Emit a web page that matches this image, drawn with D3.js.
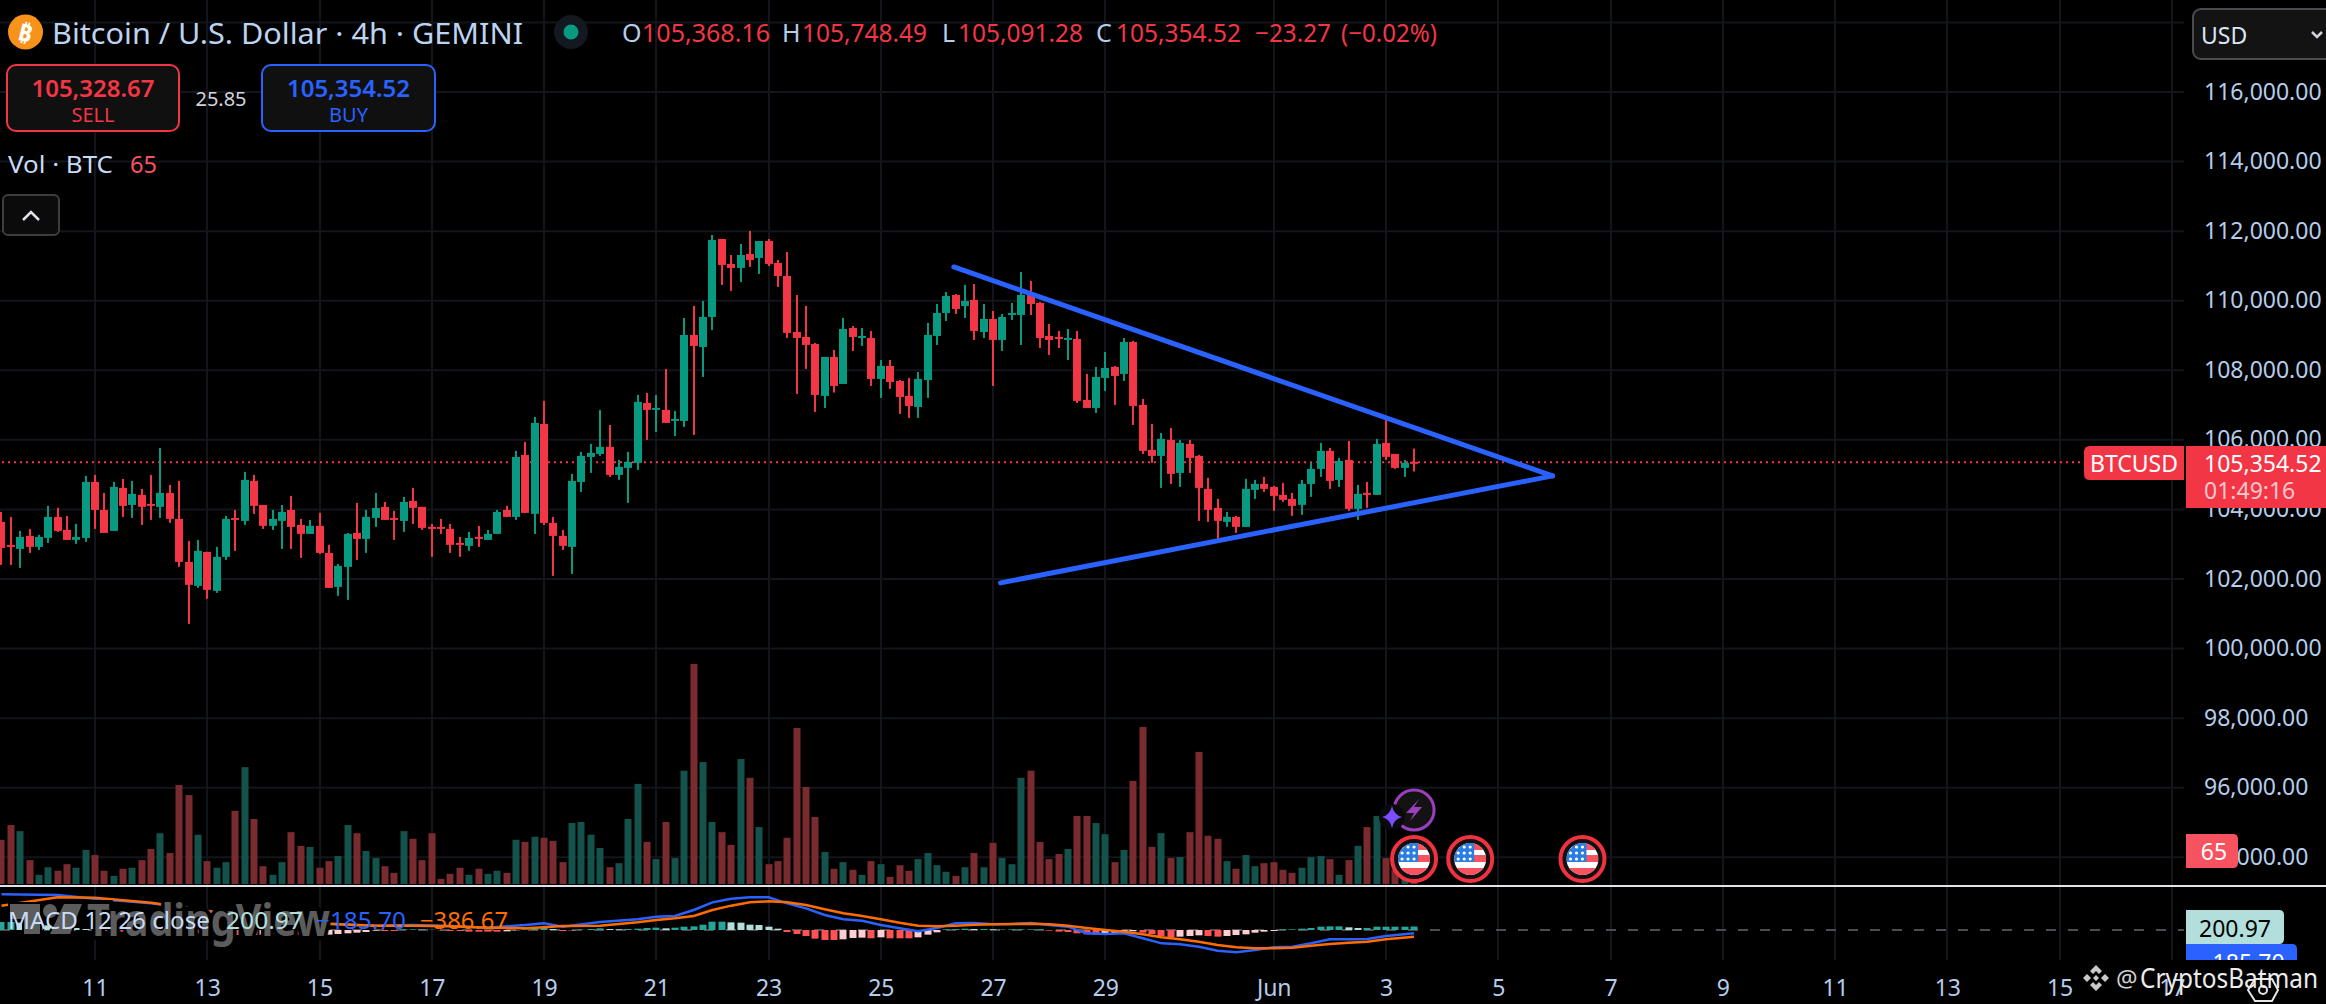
<!DOCTYPE html>
<html>
<head>
<meta charset="utf-8">
<script src="https://cdn.jsdelivr.net/npm/d3@7"></script>
<style>
html, body { margin: 0; padding: 0; background: #000; overflow: hidden; }
text { font-family: "Noto Sans", sans-serif; dominant-baseline: central; }
.domain { display: none; }
</style>
</head>
<body>
<div id="chart"></div>
<script>
var width = 2326, height = 1004
var plotRight = 2184

// 4h candles, first one is ten bars before May 11 00:00 (index 0 = May 11)
var firstIndex = -10
var opens = [
  103642,102980,102866,103239,102923,103182,103785,103412,103124,103182,
  104791,103986,103383,104619,104130,104417,104159,104073,104475,103728,
  102492,101802,102779,101658,102636,103756,103670,104820,104130,103527,
  103670,103986,103555,103297,103527,102751,101773,102348,103325,103153,
  103756,104073,103756,103670,104245,104073,103498,103498,103441,103038,
  102952,103211,103124,103297,103987,103785,105567,103872,106458,103613,
  103239,102923,104791,105510,105596,105797,104992,105194,105337,107062,
  106861,106861,106544,106544,109016,108671,109533,111775,111057,110942,
  111344,111229,111718,111085,110712,109102,108959,108757,107263,108384,
  107607,109217,108929,108929,107751,108125,107694,107263,106946,107722,
  108987,109648,110165,109849,110022,109102,109476,108872,109590,109590,
  110194,109935,108987,108958,108872,108901,107148,106918,107780,108096,
  107895,108815,107005,105711,105539,105999,105050,105884,105539,104591,
  104044,103642,103786,103498,104562,104734,104648,104418,104303,104131,
  104734,105165,105683,104849,105424,104016,104476,104418,105913,105596,
  105194,105368.16]
var highs = [
  103929,103785,103383,103440,103268,104101,104044,103814,103584,104964,
  104992,104475,104791,104877,104820,104590,104992,105768,104705,104820,
  103095,103124,102779,102923,103814,103986,105079,104992,104130,103986,
  104130,104389,103728,103699,103900,102980,102434,103325,104188,103986,
  104475,104216,103958,104360,104619,104073,103584,103728,103584,103211,
  103354,103527,103412,103987,104102,105682,105941,106659,107119,103785,
  103412,105021,105654,105883,106861,106429,105424,105654,107292,107349,
  107292,108039,106832,109505,109850,109993,111890,111775,111315,111631,
  112005,111718,111775,111172,111402,110166,109850,108786,108384,108585,
  109504,109274,109217,109131,108297,108297,107722,107780,107952,109361,
  109907,110252,110194,110453,110481,109907,109705,109619,109935,110826,
  110568,109964,109332,109131,109188,109131,107895,108096,108527,108125,
  108929,108843,107177,106459,106200,106344,105999,105999,105568,104907,
  104303,103930,103815,104878,104849,104935,104677,104763,104476,104849,
  105338,105913,105769,105481,105970,104705,104792,106028,106574,105596,
  105424,105748.49]
var lows = [
  102406,102406,102319,102751,102837,103038,103354,103124,103009,103067,
  103440,103325,103383,103785,103756,103555,103699,103756,103613,102348,
  100710,101745,101429,101601,102549,102808,103555,103871,103440,103412,
  102866,102866,102607,103297,102722,101745,101515,101400,102549,102751,
  103498,103699,103124,103354,103584,103412,102636,103297,102751,102636,
  102808,102923,103124,103297,103785,103699,103900,103297,103555,102090,
  102837,102147,104504,105050,105539,104935,104849,104188,105136,105998,
  106228,106487,106113,106372,106142,107809,109160,110453,110281,110539,
  110970,110769,110999,110396,108930,107320,108039,106803,106918,107359,
  107607,108556,108700,107550,107205,107464,106745,106630,106630,107205,
  108728,109418,109619,109504,108872,108929,107550,108556,109447,108728,
  109590,108642,108441,108642,108297,107061,106918,106774,107406,107004,
  107694,106429,105596,105338,104619,104734,104648,105050,103671,103642,
  103096,103498,103326,103498,104303,104504,103958,104217,103815,103843,
  104361,104935,104591,104648,103958,103700,104044,104418,105424,105165,
  104935,105091.28]
var closes = [
  102894,102923,103210,102923,103210,103785,103383,103124,103210,104791,
  103986,103325,104647,104101,104446,104073,104101,104475,103728,102492,
  101831,102808,101687,102636,103728,103699,104849,104101,103527,103728,
  103929,103498,103297,103527,102751,101745,102377,103297,103153,103785,
  104044,103699,103699,104216,104044,103469,103441,103441,102981,102981,
  103182,103153,103297,103929,103785,105510,103900,106487,103613,103239,
  102952,104820,105539,105625,105797,104992,105222,105366,107091,106861,
  106918,106487,106602,109016,108700,109533,111746,111028,110942,111315,
  111172,111718,111057,110712,109074,108930,108729,107292,108384,107550,
  109188,108958,108987,107751,108125,107665,107234,106975,107751,109016,
  109648,110137,109763,109993,109131,109476,108872,109533,109648,110165,
  109907,108929,108872,108901,108929,107119,106918,107809,108067,107837,
  108815,106975,105683,105539,106028,105022,105913,105481,104619,103987,
  103671,103786,103498,104591,104734,104591,104389,104274,104102,104734,
  105165,105683,104820,105395,104016,104447,104418,105884,105510,105194,
  105338,105354.52]
var volumes = [
  87,116,104,47,18,33,26,39,32,67,
  57,26,16,30,32,47,69,100,61,195,
  175,97,45,32,43,144,230,128,35,18,
  43,102,75,73,32,45,55,116,100,65,
  51,35,22,104,89,47,100,10,20,32,
  18,30,20,26,22,87,83,93,91,85,
  43,120,122,97,71,33,41,128,197,83,
  49,122,51,223,433,240,122,102,77,246,
  209,112,39,45,91,307,191,132,63,30,
  43,28,18,45,39,14,37,26,49,61,
  37,24,16,33,61,33,81,51,39,209,
  223,83,49,59,69,134,134,120,98,43,
  67,203,309,73,100,51,53,102,260,95,
  89,45,30,57,35,41,43,28,22,32,
  53,55,49,18,47,75,112,134,51,28,
  21,65]
var histogram = [
  456,456,418,380,342,266,190,152,114,57,
  -19,-57,-76,-95,-95,-76,-57,-76,-95,-133,
  -171,-190,-228,-247,-266,-285,-285,-285,-266,-228,
  -209,-209,-266,-323,-304,-266,-228,-190,-152,-114,
  -38,-57,-57,38,38,19,19,-19,-57,-57,
  -95,-95,-95,-95,-76,-19,38,76,114,57,
  -57,-19,19,57,95,57,38,57,76,114,
  133,95,133,190,209,304,475,475,437,418,
  304,285,190,76,-114,-228,-342,-494,-570,-570,
  -532,-456,-437,-475,-418,-475,-475,-475,-418,-266,
  -133,38,57,76,57,57,38,19,38,38,
  38,38,-38,-95,-114,-190,-247,-266,-228,-171,
  -133,-76,-152,-228,-342,-418,-380,-342,-304,-342,
  -380,-342,-285,-247,-152,-95,-57,38,38,76,
  114,190,209,209,152,114,114,190,190,190,
  190,200.97]

var macdIndex = [-10,-4,0,6,10,14,18,22,26,30,34,38,42,46,48,50,54,58,60,62,64,
  66,68,70,72,74,76,78,80,82,84,86,88,90,92,94,96,98,100,102,104,106,108,110,112,114,116,118,120,122,124,126,128,130,132,134,136,138,141]
var macdLine = [2038,2000,1791,1524,1238,953,667,476,324,248,286,229,133,286,381,191,457,610,762,800,1143,
  1581,1791,1867,1867,1524,1238,857,610,533,286,95,-76,114,381,400,324,343,400,286,191,-191,-229,-191,-476,-762,-819,-953,-1181,-1276,-1143,-991,-953,-762,-533,-533,-514,-343,-185.7]
var signalLine = [1391,1867,1848,1562,1238,914,610,419,324,248,248,210,133,95,152,229,248,438,572,667,800,
  1143,1391,1581,1638,1581,1429,1181,953,800,610,419,248,210,248,305,324,343,362,324,248,114,0,-95,-248,-419,-533,-667,-857,-991,-1048,-1048,-1010,-895,-800,-724,-667,-533,-386.67]

var priceTicks = [116000,114000,112000,110000,108000,106000,104000,102000,100000,98000,96000,94000]
var priceGrid = [118000].concat(priceTicks)
var timeTicks = [0,12,24,36,48,60,72,84,96,108,126,138,150,162,174,186,198,210,222]
var timeLabels = ["11","13","15","17","19","21","23","25","27","29","Jun","3","5","7","9","11","13","15","17"]

// triangle drawn by hand on the chart: [bar index, price]
var upperTrend = [[91.8,110970],[155.8,104964]]
var lowerTrend = [[96.8,101889],[155.8,104964]]
var eventBars = [141,147,159]
var lastPrice = 105354.52

var verde = "#089981", vermelho = "#f23645", azul = "#2962ff", laranja = "#ff6d00"
var corTexto = "#b5cdea", corGrid = "#13151d"

var x = d3.scaleLinear().domain([0,138]).range([95,1386])
var y = d3.scaleLinear().domain([116000,102000]).range([92,579])
var yVol = d3.scaleLinear().domain([0,433]).range([884,664])
var yMacd = d3.scaleLinear().domain([-1714,1714]).range([960,900])

var candles = opens.map(function (o,i) {
  return {i: i + firstIndex, o: o, h: highs[i], l: lows[i], c: closes[i], v: volumes[i], m: histogram[i], prev: i > 0 ? histogram[i-1] : histogram[i]}
})

function cor(d) { return d.c >= d.o ? verde : vermelho }
function px(i) { return Math.round(x(i)) }

var svg = d3.select("#chart").append("svg").attr("width",width).attr("height",height).style("display","block")
svg.append("rect").attr("width",width).attr("height",height).attr("fill","#000")
var defs = svg.append("defs")
defs.append("clipPath").attr("id","plot").append("rect").attr("width",plotRight).attr("height",886)
defs.append("clipPath").attr("id","macdPane").append("rect").attr("y",888).attr("width",width).attr("height",72)

function texto(xp,yp,str,fill,size,extra) {
  var t = svg.append("text").attr("x",xp).attr("y",yp).attr("fill",fill).attr("font-size",size).text(str)
  if (extra) for (var k in extra) t.attr(k,extra[k])
  return t
}

// grid
svg.append("g").selectAll("line").data(priceGrid).enter().append("line")
  .attr("x1",0).attr("x2",plotRight).attr("y1",function (d) { return y(d) }).attr("y2",function (d) { return y(d) })
  .attr("stroke",corGrid).attr("stroke-width",2)
svg.append("g").selectAll("line").data(timeTicks).enter().append("line")
  .attr("x1",function (d) { return px(d) }).attr("x2",function (d) { return px(d) }).attr("y1",0).attr("y2",960)
  .attr("stroke",corGrid).attr("stroke-width",2)

var plot = svg.append("g").attr("clip-path","url(#plot)")

// volume
plot.append("g").selectAll("rect").data(candles).enter().append("rect")
  .attr("x",function (d) { return px(d.i) - 3.5 })
  .attr("width",7)
  .attr("y",function (d) { return yVol(d.v) })
  .attr("height",function (d) { return yVol(0) - yVol(d.v) })
  .attr("fill",function (d) { return d.c >= d.o ? "#14534c" : "#7a2b2f" })

// last price dotted line
plot.append("line").attr("x1",2).attr("x2",2084).attr("y1",y(lastPrice)).attr("y2",y(lastPrice))
  .attr("stroke",vermelho).attr("stroke-width",2).attr("stroke-dasharray","2,4")

// candles
var velas = plot.append("g").selectAll("g").data(candles).enter().append("g").attr("fill",cor)
velas.append("rect")
  .attr("x",function (d) { return px(d.i) - 1 }).attr("width",2)
  .attr("y",function (d) { return y(d.h) })
  .attr("height",function (d) { return y(d.l) - y(d.h) })
velas.append("rect")
  .attr("x",function (d) { return px(d.i) - 4 }).attr("width",8)
  .attr("y",function (d) { return y(Math.max(d.o,d.c)) })
  .attr("height",function (d) { return Math.max(2, Math.abs(y(d.o) - y(d.c))) })

// trend lines
var linhaTrend = d3.line().x(function (d) { return x(d[0]) }).y(function (d) { return y(d[1]) })
plot.selectAll("path.trend").data([upperTrend,lowerTrend]).enter().append("path")
  .attr("class","trend").attr("d",linhaTrend).attr("fill","none")
  .attr("stroke",azul).attr("stroke-width",5).attr("stroke-linecap","round")

// pane separator
svg.append("rect").attr("x",0).attr("y",885).attr("width",width).attr("height",2).attr("fill","#e0e3eb")

// macd pane
var macd = svg.append("g").attr("clip-path","url(#macdPane)")
macd.append("line").attr("x1",0).attr("x2",plotRight).attr("y1",yMacd(0)).attr("y2",yMacd(0))
  .attr("stroke","#4c4d50").attr("stroke-width",2).attr("stroke-dasharray","10,12")
macd.append("g").selectAll("rect").data(candles).enter().append("rect")
  .attr("x",function (d) { return px(d.i) - 3.5 }).attr("width",7)
  .attr("y",function (d) { return Math.min(yMacd(d.m),yMacd(0)) })
  .attr("height",function (d) { return Math.abs(yMacd(d.m) - yMacd(0)) })
  .attr("fill",function (d) {
    if (d.m >= 0) return d.m >= d.prev ? "#26a69a" : "#b2dfdb"
    return d.m <= d.prev ? "#ff5252" : "#ffcdd2"
  })
var linhaMacd = d3.line().x(function (d) { return x(d[0]) }).y(function (d) { return yMacd(d[1]) })
macd.append("path").attr("d",linhaMacd(d3.zip(macdIndex,macdLine))).attr("fill","none").attr("stroke",azul).attr("stroke-width",2.5)
macd.append("path").attr("d",linhaMacd(d3.zip(macdIndex,signalLine))).attr("fill","none").attr("stroke",laranja).attr("stroke-width",2.5)

// tradingview watermark sits over the pane
var wm = svg.append("g")
wm.append("path").attr("d","M10 904H40V934H24V919H10Z M64 904H82L70 934H50Z").attr("fill","#5c5c5c").attr("stroke","#000").attr("stroke-width",4).attr("paint-order","stroke")
wm.append("circle").attr("cx",50).attr("cy",911).attr("r",7).attr("fill","#5c5c5c")
texto(87,919,"TradingView","#5c5c5c",44,{"font-weight":700,textLength:243,lengthAdjust:"spacingAndGlyphs",stroke:"#000","stroke-width":8,"paint-order":"stroke"})

// macd legend
texto(8,919,"MACD 12 26 close","#c8dcf5",24,{textLength:202,lengthAdjust:"spacingAndGlyphs"})
texto(226,919,"200.97","#b2dfdb",24,{textLength:77,lengthAdjust:"spacingAndGlyphs"})
texto(316,919,"\u2212185.70",azul,24,{textLength:90,lengthAdjust:"spacingAndGlyphs"})
texto(420,919,"\u2212386.67",laranja,24,{textLength:88,lengthAdjust:"spacingAndGlyphs"})

// time axis
var eixoX = d3.axisBottom(x).tickValues(timeTicks).tickSize(0).tickPadding(0)
  .tickFormat(function (d,i) { return timeLabels[i] })
var gX = svg.append("g").attr("transform","translate(0,987)").call(eixoX)
gX.selectAll("text").attr("fill",corTexto).attr("font-size",23).attr("dy",0).attr("y",0)

// price axis
var eixoY = d3.axisRight(y).tickValues(priceTicks).tickSize(0).tickPadding(0).tickFormat(d3.format(",.2f"))
var gY = svg.append("g").attr("transform","translate(2204,-2)").call(eixoY)
gY.selectAll("text").attr("fill",corTexto).attr("font-size",23).attr("dy",0)

// tags on the price axis
svg.append("path").attr("d","M2184 446H2090Q2084 446 2084 452V474Q2084 480 2090 480H2184Z").attr("fill",vermelho)
texto(2134,463,"BTCUSD","#fff",23,{"text-anchor":"middle"})
svg.append("rect").attr("x",2186).attr("y",446).attr("width",140).attr("height",62).attr("fill",vermelho)
texto(2204,463,"105,354.52","#fff",23)
texto(2204,490,"01:49:16","#fbc8cc",23)
svg.append("path").attr("d","M2186 834H2233Q2238 834 2238 839V863Q2238 868 2233 868H2186Z").attr("fill","#f7525f")
texto(2214,851,"65","#fff",23,{"text-anchor":"middle"})
svg.append("path").attr("d","M2186 910H2279Q2284 910 2284 915V939Q2284 944 2279 944H2186Z").attr("fill","#b2dfdb")
texto(2235,928,"200.97","#000",23,{"text-anchor":"middle"})
var tagMacd = svg.append("g").attr("clip-path","url(#macdPane)")
tagMacd.append("path").attr("d","M2186 944H2292Q2297 944 2297 949V980H2186Z").attr("fill",azul)
tagMacd.append("text").attr("x",2242).attr("y",962).attr("fill","#fff").attr("font-size",23).attr("text-anchor","middle").text("\u2212185.70")

// events over the volume
var bandeiras = svg.append("g").selectAll("g").data(eventBars).enter().append("g")
  .attr("transform",function (d) { return "translate(" + x(d) + ",859)" })
bandeiras.append("circle").attr("r",22).attr("fill","#111").attr("stroke","#f0313f").attr("stroke-width",4)
defs.append("clipPath").attr("id","flag").append("circle").attr("r",16)
var flag = bandeiras.append("g").attr("clip-path","url(#flag)")
flag.append("rect").attr("x",-16).attr("y",-16).attr("width",32).attr("height",32).attr("fill","#fff")
flag.append("rect").attr("x",-16).attr("y",-16).attr("width",32).attr("height",7).attr("fill","#f7525f")
flag.append("rect").attr("x",-16).attr("y",-4).attr("width",32).attr("height",7).attr("fill","#f7525f")
flag.append("rect").attr("x",-16).attr("y",9).attr("width",32).attr("height",7).attr("fill","#f7525f")
flag.append("rect").attr("x",-16).attr("y",-16).attr("width",20).attr("height",19).attr("fill","#2a7ee0")
;[-12,-6,0].forEach(function (a) {
  ;[-12,-6,0].forEach(function (b) {
    flag.append("circle").attr("cx",b).attr("cy",a).attr("r",1.6).attr("fill","#fff")
  })
})

var raio = svg.append("g").attr("transform","translate(" + x(141) + ",810)")
raio.append("circle").attr("r",20).attr("fill","#131313").attr("stroke","#9c3fbf").attr("stroke-width",3)
raio.append("path").attr("d","M5 -11L-8 3H0L-4 11L8 -3H0Z").attr("fill","#9c3fbf")
svg.append("circle").attr("cx",1392).attr("cy",817).attr("r",13).attr("fill","#0a0a0a")
svg.append("path").attr("d","M1392 806Q1394 815 1402 817Q1394 819 1392 828Q1390 819 1382 817Q1390 815 1392 806Z").attr("fill","#7a4dff")

// header
svg.append("circle").attr("cx",25.5).attr("cy",32).attr("r",17.5).attr("fill","#f7931a")
texto(25.5,32,"\u20bf","#fff",24,{"text-anchor":"middle","font-family":"DejaVu Sans","font-weight":700,transform:"rotate(14 25.5 32)"})
texto(52,32,"Bitcoin / U.S. Dollar \u00b7 4h \u00b7 GEMINI","#bcd4f0",29,{textLength:471,lengthAdjust:"spacingAndGlyphs"})
svg.append("circle").attr("cx",571).attr("cy",32).attr("r",17).attr("fill","#141820")
svg.append("circle").attr("cx",571).attr("cy",32).attr("r",7.5).attr("fill",verde)

var ohlc = [
  [622,"O",null,corTexto],[642,"105,368.16",128,vermelho],
  [782,"H",null,corTexto],[802,"105,748.49",125,vermelho],
  [942,"L",null,corTexto],[958,"105,091.28",125,vermelho],
  [1096,"C",null,corTexto],[1116,"105,354.52",125,vermelho],
  [1255,"\u221223.27",76,vermelho],[1341,"(\u22120.02%)",96,vermelho]
]
ohlc.forEach(function (d) {
  var t = texto(d[0],32,d[1],d[3],25)
  if (d[2]) t.attr("textLength",d[2]).attr("lengthAdjust","spacingAndGlyphs")
})

function caixa(xp,w,stroke,valor,rotulo) {
  svg.append("rect").attr("x",xp).attr("y",65).attr("width",w).attr("height",66).attr("rx",9)
    .attr("fill","#101010").attr("stroke",stroke).attr("stroke-width",2)
  texto(xp + w/2,87,valor,stroke,24,{"text-anchor":"middle","font-weight":600})
  texto(xp + w/2,114,rotulo,stroke,20,{"text-anchor":"middle"})
}
caixa(7,172,vermelho,"105,328.67","SELL")
caixa(262,173,azul,"105,354.52","BUY")
texto(221,98,"25.85","#d1d4dc",20,{"text-anchor":"middle"})

texto(8,163,"Vol \u00b7 BTC","#c8dcf5",24,{textLength:105,lengthAdjust:"spacingAndGlyphs"})
texto(130,163,"65","#f7525f",24,{textLength:27,lengthAdjust:"spacingAndGlyphs"})

svg.append("rect").attr("x",3).attr("y",195).attr("width",56).attr("height",40).attr("rx",5)
  .attr("fill","#0b0b0b").attr("stroke","#3c3d40").attr("stroke-width",2)
svg.append("path").attr("d","M23 220L31 212L39 220").attr("fill","none").attr("stroke","#e0e3eb").attr("stroke-width",2.5)

// currency box
svg.append("rect").attr("x",2193).attr("y",9).attr("width",150).attr("height",50).attr("rx",8)
  .attr("fill","#131313").attr("stroke","#4a4c50").attr("stroke-width",2)
texto(2201,35,"USD","#dbe6f5",23)
svg.append("path").attr("d","M2312 32L2317 37L2322 32").attr("fill","none").attr("stroke","#d1d4dc").attr("stroke-width",2.5)

// repost credit, bottom right
svg.append("path").attr("d","M2248 990L2255 1001H2272L2278 990L2272 979H2255Z").attr("fill","none").attr("stroke","#e6e6e6").attr("stroke-width",2)
svg.append("circle").attr("cx",2263).attr("cy",990).attr("r",4).attr("fill","none").attr("stroke","#e6e6e6").attr("stroke-width",2)
var logo = svg.append("g").attr("transform","translate(2096,978)").attr("fill","#c9c9c9")
logo.append("path").attr("d","M0 -13L6 -7L3 -4L0 -7L-3 -4L-6 -7Z")
logo.append("path").attr("d","M0 13L6 7L3 4L0 7L-3 4L-6 7Z")
logo.append("path").attr("d","M-13 0L-9 -4L-5 0L-9 4Z M13 0L9 -4L5 0L9 4Z M0 -3L3 0L0 3L-3 0Z")
texto(2116,977,"@","#d0d0d0",24)
texto(2140,977,"CryptosBatman","#ececec",28,{textLength:178,lengthAdjust:"spacingAndGlyphs"})
</script>
</body>
</html>
